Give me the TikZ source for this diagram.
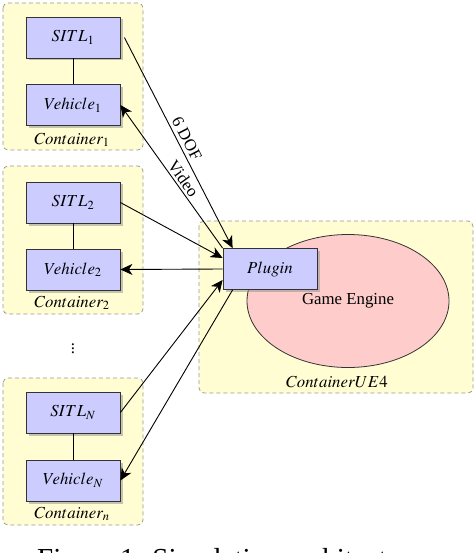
\documentclass[tikz,border=0pt]{standalone}
\usepackage{mathptmx}
\usepackage[no-math]{fontspec}
\setmainfont{Liberation Serif}
\usetikzlibrary{arrows.meta,shapes.geometric,shadows}

\tikzset{
  box/.style={draw=black!80, fill=blue!20, line width=0.8pt, minimum width=94pt, minimum height=41pt,
    drop shadow={shadow xshift=2.5pt, shadow yshift=-2.5pt, fill=black!45}},
  container/.style={draw=black!40, line width=0.8pt, dash pattern=on 4pt off 3pt, fill=yellow!18, rounded corners=5pt},
  link/.style={-{Stealth[length=12pt,width=11pt,inset=3.5pt]}, line width=0.9pt, black},
}

\begin{document}
\begin{tikzpicture}[x=1pt,y=-1pt,font=\fontsize{16.8}{20}\selectfont]
        \useasboundingbox (0,0) rectangle (474,553);
        %containers
        \draw[container] (3,3) rectangle (143,150);
        \draw[container] (3,166) rectangle (143,314);
        \draw[container] (3,378) rectangle (143,525);
        \draw[container] (199,221) rectangle (473,393);
        
        \node (lab1) at (72,140) {$Container_1$};
        \node (lab2) at (72,303) {$Container_2$};
        \node (labn) at (72,514) {$Container_n$};
        \node (labue) at (337,382) {$ContainerUE4$};
        
        %UE4 side
        \node[ellipse, draw=black!80, fill=red!20, line width=0.8pt, minimum width=202pt, minimum height=133pt] (engine) at (348,301) {Game Engine};
        \node[box] (plugin) at (270,269) {$Plugin$};
        
        %vehicles
        \node[box] (sitl1) at (73,37.5) {$SITL_1$};
        \node[box] (veh1) at (73,105) {$Vehicle_1$};
        \node[box] (sitl2) at (73,202.5) {$SITL_2$};
        \node[box] (veh2) at (73,269.5) {$Vehicle_2$};
        \node[box] (sitln) at (73,412.5) {$SITL_N$};
        \node[box] (vehn) at (73,480.5) {$Vehicle_N$};
        \node (dots) at (73,346) {$\vdots$};
        
        \draw[line width=0.9pt] (sitl1) -- (veh1);
        \draw[line width=0.9pt] (sitl2) -- (veh2);
        \draw[line width=0.9pt] (sitln) -- (vehn);
        
        %connections
        \draw[link] ([xshift=4pt]sitl1.east) -- node[midway, above, sloped] {6 DOF} ([xshift=10pt]plugin.north west);
        \draw[link] (plugin.north west) -- node[pos=0.45, above, sloped, inner sep=2pt] {Video} (veh1.east);
        \draw[link] (sitl2.east) -- ([yshift=11pt]plugin.west);
        \draw[link] (plugin.west) -- (veh2.east);
        \draw[link] (sitln.east) -- ([yshift=-11pt]plugin.west);
        \draw[link] ([xshift=10pt]plugin.south west) -- (vehn.east);
        
        %caption
        \node[anchor=base west, inner sep=0pt, font=\fontsize{29}{34}\selectfont] (caption) at (37,568) {Figure 1: Simulation architecture};
        
\end{tikzpicture}
\end{document}
